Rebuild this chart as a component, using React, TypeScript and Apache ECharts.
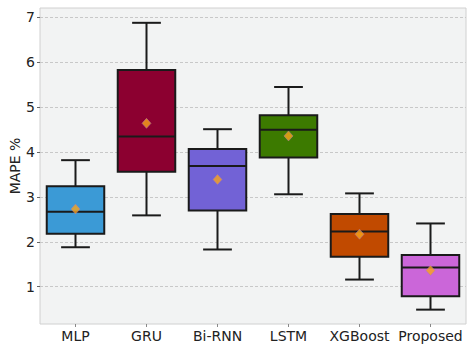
import React, { useEffect, useRef } from "react";
import * as echarts from "echarts";

const categories = ["MLP", "GRU", "Bi-RNN", "LSTM", "XGBoost", "Proposed"];
const whiskerLow = [1.88, 2.59, 1.83, 3.06, 1.16, 0.49];
const q1 = [2.18, 3.56, 2.7, 3.88, 1.67, 0.79];
const median = [2.67, 4.35, 3.69, 4.5, 2.23, 1.43];
const q3 = [3.24, 5.83, 4.07, 4.82, 2.62, 1.71];
const whiskerHigh = [3.82, 6.88, 4.51, 5.45, 3.08, 2.41];
const means = [2.73, 4.64, 3.39, 4.36, 2.17, 1.36];
const yTicks = [1, 2, 3, 4, 5, 6, 7];
const yAxisTitle = "MAPE %";
const boxColors = ["#3b9ad6", "#8c0030", "#7262d6", "#3c7a00", "#c14a00", "#cb66d9"];

export default function App() {
  const ref = useRef<HTMLDivElement>(null);
  useEffect(() => {
    if (!ref.current) return;
    const chart = echarts.init(ref.current, null, { renderer: "svg" });
    const boxData = categories.map((_, i) => [i, whiskerLow[i], q1[i], median[i], q3[i], whiskerHigh[i]]);
    const lineStyle = { stroke: "#1a1a1a", lineWidth: 2 };
    chart.setOption({
      animation: false,
      backgroundColor: "#ffffff",
      textStyle: { fontFamily: "DejaVu Sans" },
      grid: {
        left: 40,
        right: 8,
        top: 8,
        bottom: 27,
        containLabel: false,
        outerBoundsMode: "none",
        show: true,
        backgroundColor: "#f2f3f3",
        borderColor: "#d0d0d0",
        borderWidth: 1,
      },
      graphic: [
        {
          type: "text",
          x: 15,
          y: 166,
          rotation: Math.PI / 2,
          style: {
            text: yAxisTitle,
            fill: "#222",
            fontSize: 14,
            fontFamily: "DejaVu Sans",
            align: "center",
            verticalAlign: "middle",
          },
        },
      ],
      xAxis: {
        type: "category",
        data: categories,
        boundaryGap: true,
        axisLine: { show: false },
        axisTick: { show: true, alignWithLabel: true, length: 3, lineStyle: { color: "#888" } },
        axisLabel: { color: "#222", fontSize: 14, margin: 5, fontFamily: "DejaVu Sans", interval: 0 },
        splitLine: { show: false },
      },
      yAxis: {
        type: "value",
        min: 0.17,
        max: 7.21,
        axisLine: { show: false },
        axisTick: { show: true, length: 3, customValues: yTicks, lineStyle: { color: "#666" } },
        axisLabel: { color: "#222", fontSize: 14, margin: 5, customValues: yTicks, fontFamily: "DejaVu Sans" },
        splitLine: { show: true, lineStyle: { color: "#c8c8c8", type: [3, 2], width: 1 } },
      },
      series: [
        {
          type: "custom",
          data: boxData,
          encode: { x: 0, y: [1, 2, 3, 4, 5] },
          renderItem: (params: any, api: any) => {
            const idx = api.value(0);
            const band = api.size([1, 0])[0];
            const bw = band * 0.81;
            const cw = band * 0.405;
            const pLow = api.coord([idx, api.value(1)]);
            const pQ1 = api.coord([idx, api.value(2)]);
            const pMed = api.coord([idx, api.value(3)]);
            const pQ3 = api.coord([idx, api.value(4)]);
            const pHigh = api.coord([idx, api.value(5)]);
            const cx = pMed[0];
            return {
              type: "group",
              children: [
                { type: "line", shape: { x1: cx, y1: pHigh[1], x2: cx, y2: pQ3[1] }, style: lineStyle },
                { type: "line", shape: { x1: cx, y1: pQ1[1], x2: cx, y2: pLow[1] }, style: lineStyle },
                { type: "line", shape: { x1: cx - cw / 2, y1: pHigh[1], x2: cx + cw / 2, y2: pHigh[1] }, style: lineStyle },
                { type: "line", shape: { x1: cx - cw / 2, y1: pLow[1], x2: cx + cw / 2, y2: pLow[1] }, style: lineStyle },
                {
                  type: "rect",
                  shape: { x: cx - bw / 2, y: pQ3[1], width: bw, height: pQ1[1] - pQ3[1] },
                  style: { fill: boxColors[idx], stroke: "#1a1a1a", lineWidth: 2 },
                },
                { type: "line", shape: { x1: cx - bw / 2, y1: pMed[1], x2: cx + bw / 2, y2: pMed[1] }, style: lineStyle },
              ],
            };
          },
          z: 2,
        },
        {
          type: "scatter",
          data: means.map((m, i) => [i, m]),
          symbol: "diamond",
          symbolSize: [9, 10],
          itemStyle: { color: "#f9a51a", borderColor: "#a878b8", borderWidth: 0.6 },
          z: 3,
        },
      ],
    });
    return () => chart.dispose();
  }, []);
  return (
    <div
      ref={ref}
      style={{ position: "absolute", left: 0, top: 0, width: 474, height: 351 }}
    />
  );
}
